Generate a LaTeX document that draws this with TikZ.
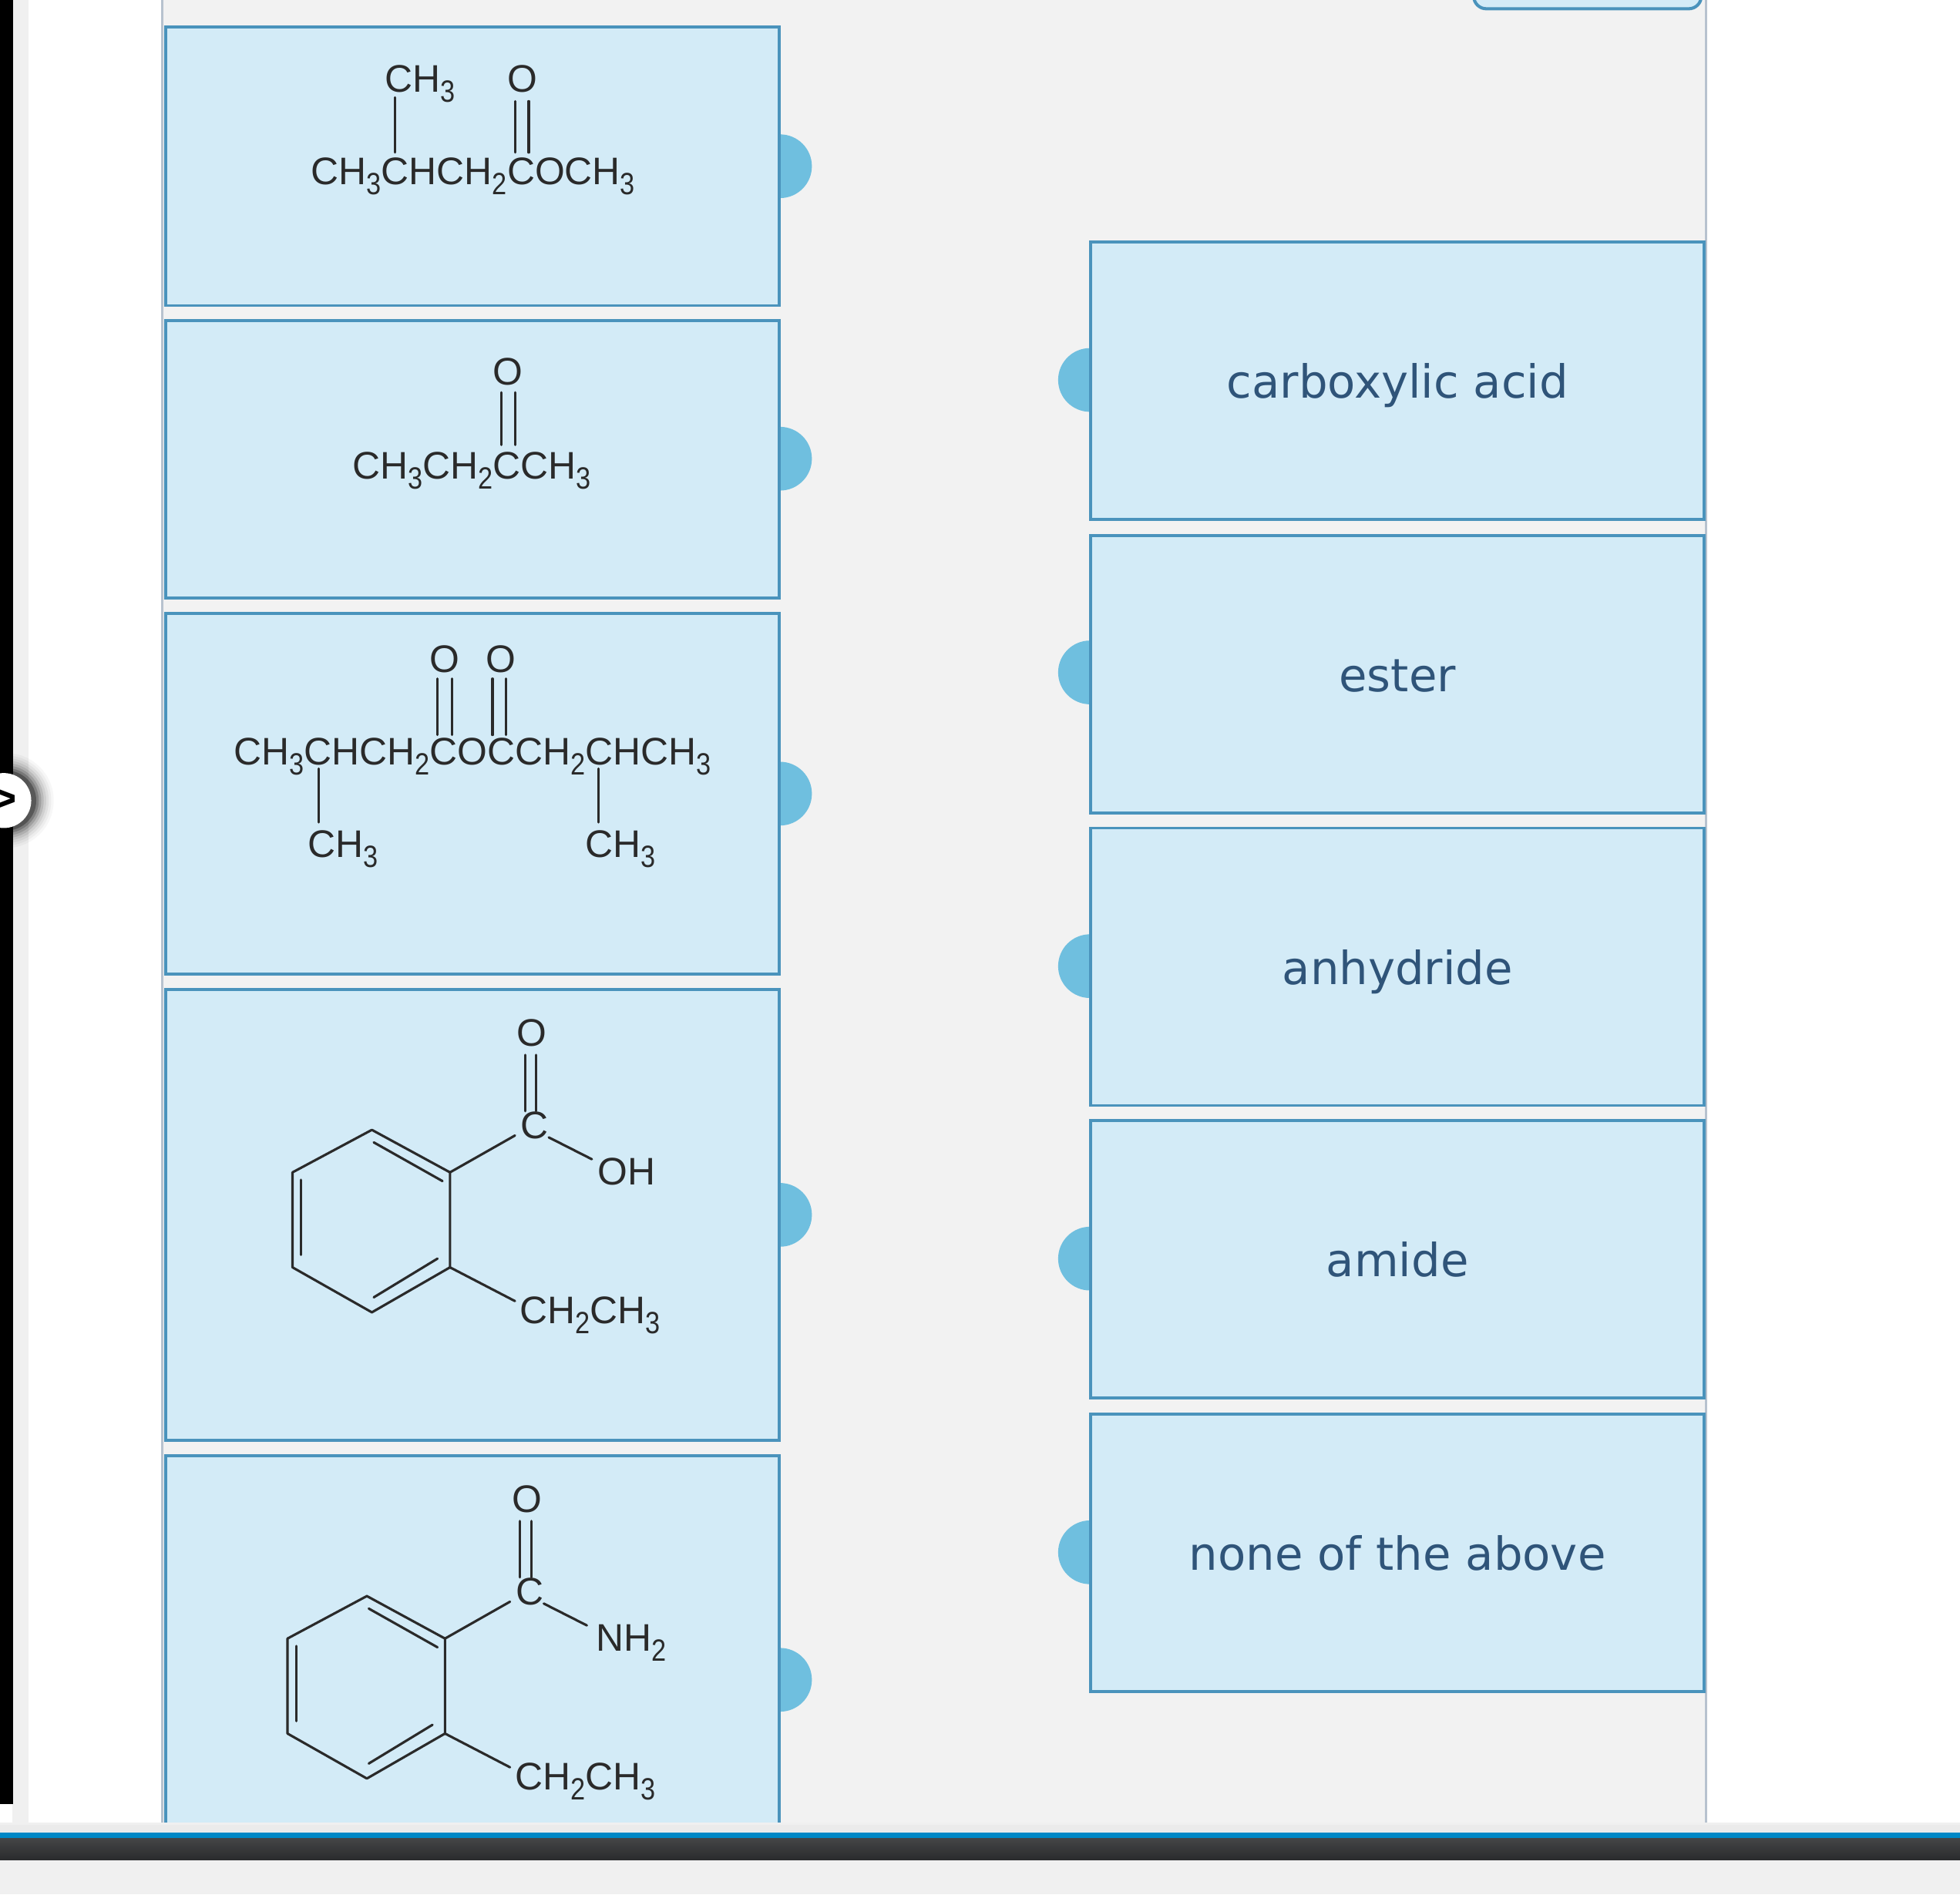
\documentclass[tikz,border=0pt]{standalone}
\usepackage{fontspec}
\setmainfont{Liberation Sans}
\newfontfamily\answerfont{DejaVu Sans}
\definecolor{panelbg}{HTML}{F2F2F2}
\definecolor{panelline}{HTML}{B7C2CF}
\definecolor{boxfill}{HTML}{D3EBF7}
\definecolor{boxline}{HTML}{4A93BC}
\definecolor{dotblue}{HTML}{6FBFDF}
\definecolor{answertext}{HTML}{2F5479}
\definecolor{bondink}{HTML}{2A2A2A}
\definecolor{pagegrey}{HTML}{F0F0F0}
\definecolor{bandblue}{HTML}{0088C6}
\definecolor{bardark}{HTML}{444546}
\definecolor{bardarker}{HTML}{2A2B2D}
\newcommand{\sbs}[1]{\raisebox{-4.6pt}{\scalebox{.86}[1]{\fontsize{14}{14}\selectfont #1}}}
\newcommand{\ringmol}[1]{%
  \coordinate (#1a) at (297.5,904);
  \coordinate (#1b) at (360,938);
  \coordinate (#1c) at (360,1014);
  \coordinate (#1d) at (297.5,1050);
  \coordinate (#1e) at (234,1014);
  \coordinate (#1f) at (234,938);
  \draw[bond] (#1a)--(#1b)--(#1c)--(#1d)--(#1e)--(#1f)--cycle;
  \draw[bond] (299,914)--(354,945);
  \draw[bond] (350,1007)--(299,1038);
  \draw[bond] (241,944)--(241,1004);
  \draw[bond] (#1b)--(412,908.5);
  \draw[bond] (#1c)--(412,1041);
  \draw[bond] (439,910)--(473.5,927.5);
  \draw[bond] (420,844)--(420,889);
  \draw[bond] (429,844)--(429,889);
  \node[chem] (#1o) at (413.5,837) {O};
  \node[chem] (#1c) at (416.5,911) {C};
  \node[chem] (#1e) at (416,1059) {CH\sbs{2}CH\sbs{3}};
}
\tikzset{
  answerbox/.style={draw=boxline,fill=boxfill,line width=2.4*0.02cm,minimum width=9.82cm,outer sep=0pt,inner sep=0pt},
  answerlabel/.style={answerbox,text=answertext,font=\answerfont\fontsize{20.8}{24}\selectfont,text height=18pt,text depth=2pt},
  dot/.style={circle,fill=dotblue,minimum size=1.02cm,inner sep=0pt,outer sep=0pt},
  chem/.style={anchor=base west,inner sep=0pt,outer sep=0pt,text=bondink,font=\fontsize{17.5}{18}\selectfont},
  bond/.style={draw=bondink,line width=1.1pt,line cap=round,line join=round},
}
\begin{document}
\begin{tikzpicture}[x=0.02cm,y=-0.02cm]
\useasboundingbox (0,0) rectangle (1568,1515.6);
\fill[white] (0,0) rectangle (1568,1515.6);
% page furniture
\fill[panelbg] (130,0) rectangle (1365,1460);
\draw[panelline,line width=0.04cm] (130,0)--(130,1460) (1365,0)--(1365,1460);
\fill[pagegrey] (10,0) rectangle (23,1460);
\fill[black] (0,0) rectangle (10.3,1443.5);
% top-right button
\draw[boxline,fill=boxfill,line width=0.05cm,rounded corners=0.2cm] (1179,-20) rectangle (1361,7);
% handles
\node[dot] (h1) at (624,133) {};
\node[dot] (h2) at (624,367) {};
\node[dot] (h3) at (624,635) {};
\node[dot] (h4) at (624,972) {};
\node[dot] (h5) at (624,1344) {};
\node[dot] (k1) at (872,304) {};
\node[dot] (k2) at (872,538) {};
\node[dot] (k3) at (872,773) {};
\node[dot] (k4) at (872,1007) {};
\node[dot] (k5) at (872,1242) {};
% left boxes
\node[answerbox,minimum height=4.46cm] (L1) at (378,133) {};
\node[answerbox,minimum height=4.44cm] (L2) at (378,367.5) {};
\node[answerbox,minimum height=5.78cm] (L3) at (378,635) {};
\node[answerbox,minimum height=7.22cm] (L4) at (378,972) {};
\node[answerbox,minimum height=6.72cm] (L5) at (378,1332.5) {};
% right boxes
\node[answerlabel,minimum height=4.44cm] (R1) at (1118,304.5) {carboxylic acid};
\node[answerlabel,minimum height=4.44cm] (R2) at (1118,539.5) {ester};
\node[answerlabel,minimum height=4.44cm] (R3) at (1118,773.5) {anhydride};
\node[answerlabel,minimum height=4.44cm] (R4) at (1118,1007.5) {amide};
\node[answerlabel,minimum height=4.44cm] (R5) at (1118,1242.5) {none of the above};
% molecule 1
\node[chem] (m1a) at (308,73.5) {CH\sbs{3}};
\node[chem] (m1o) at (406,73.5) {O};
\node[chem] (m1m) at (249,147.5) {CH\sbs{3}CHCH\sbs{2}COCH\sbs{3}};
\draw[bond] (316,78)--(316,122);
\draw[bond] (412,81)--(412,122);
\draw[bond] (423,81)--(423,122);
% molecule 2
\node[chem] (m2o) at (394,308) {O};
\node[chem] (m2m) at (282,383) {CH\sbs{3}CH\sbs{2}CCH\sbs{3}};
\draw[bond] (401,314)--(401,356);
\draw[bond] (412,314)--(412,356);
% molecule 3
\node[chem] (m3o) at (344,538) {O};
\node[chem] (m3p) at (388.5,538) {O};
\node[chem] (m3m) at (187,612) {CH\sbs{3}CHCH\sbs{2}COCCH\sbs{2}CHCH\sbs{3}};
\node[chem] (m3l) at (246.5,686) {CH\sbs{3}};
\node[chem] (m3r) at (468,686) {CH\sbs{3}};
\draw[bond] (350,543)--(350,588);
\draw[bond] (361.5,543)--(361.5,588);
\draw[bond] (394,543)--(394,588);
\draw[bond] (405,543)--(405,588);
\draw[bond] (255,615)--(255,658);
\draw[bond] (479,615)--(479,658);
% molecule 4
\begin{scope}
\ringmol{p}
\node[chem] (pr) at (478,948) {OH};
\end{scope}
% molecule 5
\begin{scope}[shift={(-4,373)}]
\ringmol{q}
\node[chem] (qr) at (481,948) {NH\sbs{2}};
\end{scope}
% footer
\fill[pagegrey] (0,1458) rectangle (1568,1515.6);
\fill[white!92!black] (0,1460) rectangle (1568,1466);
\fill[bandblue] (0,1466) rectangle (1568,1471);
\shade[top color=bardark,bottom color=bardarker] (0,1471) rectangle (1568,1488);
% side toggle with soft shadow
\foreach \r/\o in {38/0.03,36/0.04,34/0.05,32/0.07,30/0.10,28/0.14,26/0.2,24/0.3}{
  \fill[black,opacity=\o] (5,640.5) circle[radius=\r];
}
\node[circle,fill=white,minimum size=0.88cm,inner sep=0pt,outer sep=0pt] (tog) at (3,640.5) {};
\node[text=black,inner sep=0pt,font=\bfseries\fontsize{20}{20}\selectfont] (togmark) at (3,640.5) {>};
\end{tikzpicture}
\end{document}
